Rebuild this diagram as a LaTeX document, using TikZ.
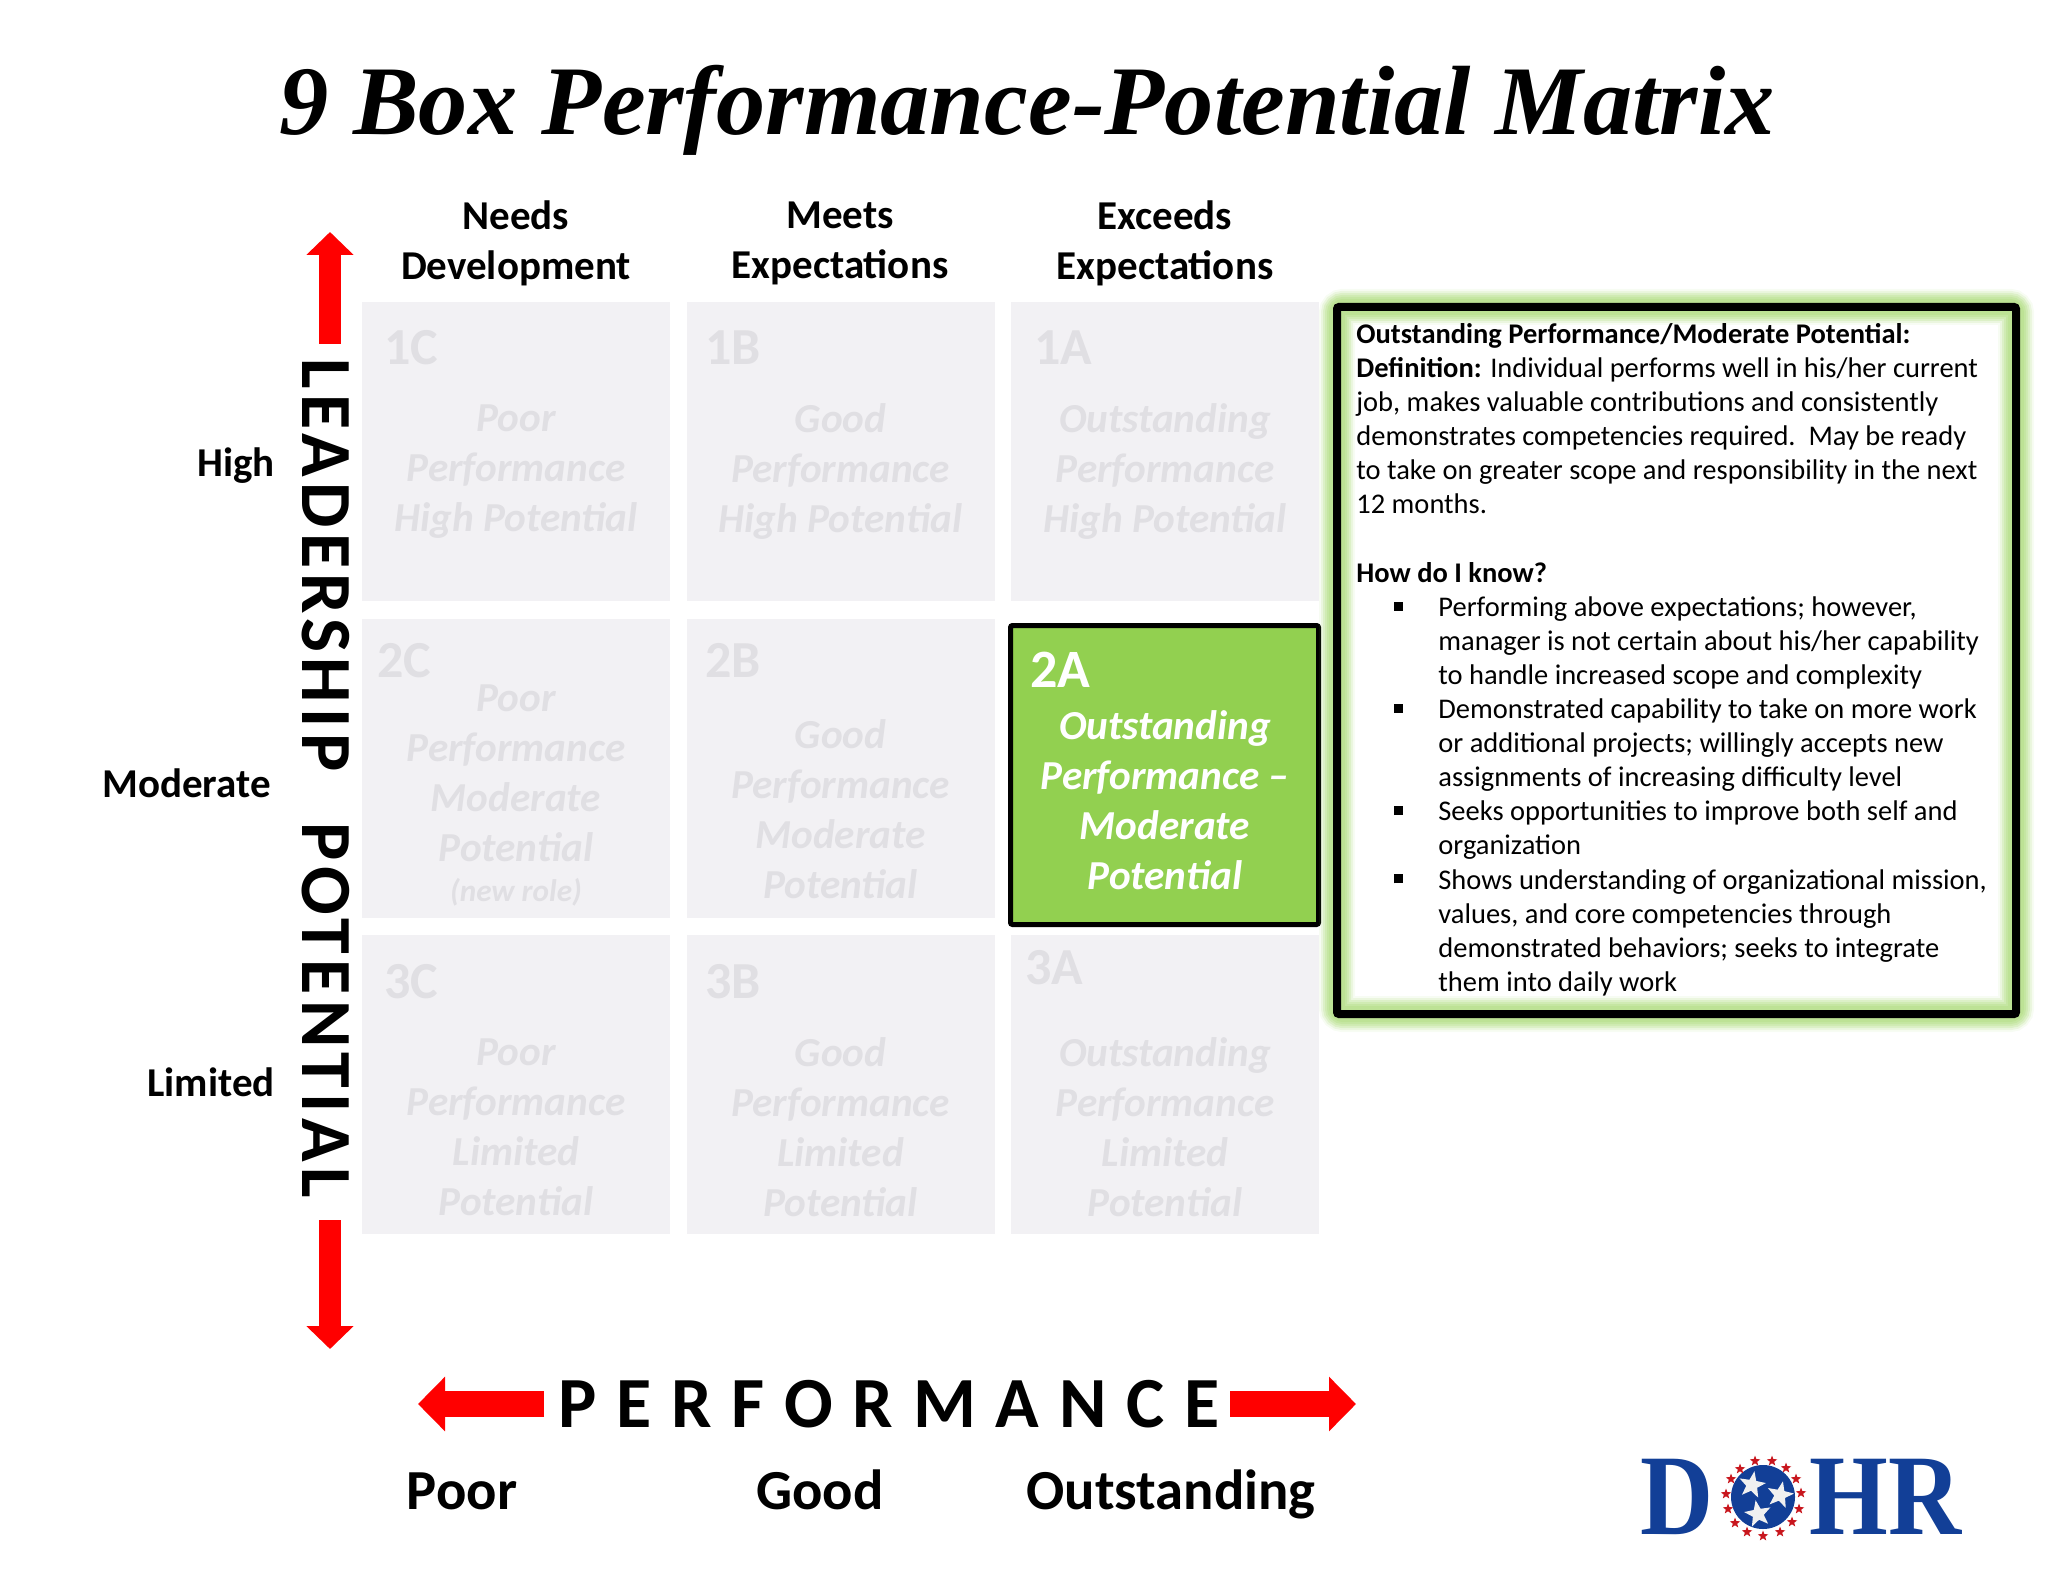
\documentclass[tikz,border=0pt]{standalone}
\usepackage{fontspec}
\setmainfont{Carlito}
\newfontfamily\titlefont{Liberation Serif}
\newfontfamily\logofont[FakeStretch=0.88]{Liberation Serif}
\newfontfamily\spacedfont[LetterSpace=7.3]{Carlito}
\newfontfamily\perffont[LetterSpace=4.85]{Carlito}
\usetikzlibrary{arrows.meta,shapes.geometric}
\definecolor{cellgrey}{HTML}{F2F1F4}
\definecolor{cellink}{HTML}{E0DFE3}
\definecolor{boxgreen}{HTML}{92D050}
\definecolor{logoblue}{HTML}{123F97}
\definecolor{logored}{HTML}{C8161D}
\newcommand{\mybullet}{\hspace*{19pt}\rule[2.8pt]{4.5pt}{4.5pt}\hspace*{17.5pt}}
\newcommand{\myindent}{\hspace*{41pt}}
\begin{document}
\begin{tikzpicture}
		[x=0.5pt,y=-0.5pt,
		mycell/.style={
			rectangle,
			fill=cellgrey,
			outer sep=0pt,
			inner sep=0pt,
			minimum width=154pt,
			minimum height=149.5pt
		},
		mytag/.style={anchor=base west,inner sep=0pt,text=cellink,font=\fontsize{26}{30}\selectfont\bfseries},
		mytext/.style={align=center,inner sep=0pt,text=cellink,font=\fontsize{20.6}{25}\selectfont\bfseries\itshape},
		myhead/.style={align=center,inner sep=0pt,font=\fontsize{20.5}{25}\selectfont\bfseries},
		myside/.style={anchor=base east,inner sep=0pt,font=\fontsize{20.5}{25}\selectfont\bfseries},
		mybottom/.style={anchor=base,inner sep=0pt,font=\fontsize{28.3}{32}\selectfont\bfseries},
		redarrow/.style={draw=red,line width=11pt,-{Triangle[length=11.5pt,width=23pt]}},
		redarrowb/.style={draw=red,line width=13pt,-{Triangle[length=13.5pt,width=26.5pt]}},
		glowline/.style={draw=boxgreen,opacity=0.17,rounded corners=3pt},
		redstar/.style={star,star points=5,star point ratio=2.4,fill=logored,minimum size=5.5pt,inner sep=0pt},
		whitestar/.style={star,star points=5,star point ratio=2.4,fill=white!94!black,minimum size=14pt,inner sep=0pt}]
		\useasboundingbox (0,0) rectangle (2048,1582);
		\node[anchor=base,inner sep=0pt,font=\titlefont\fontsize{49.2}{60}\selectfont\bfseries\itshape] (title) at (1027,135) {9 Box Performance-Potential Matrix};

		\node[myhead] (head1) at (516,243) {Needs\\Development};
		\node[myhead] (head2) at (840,243) {Meets\\Expectations};
		\node[myhead] (head3) at (1165,243) {Exceeds\\Expectations};

		\node[myside] (high) at (275,477) {High};
		\node[myside] (moderate) at (271,797) {Moderate};
		\node[myside] (limited) at (275,1096) {Limited};

		\node[mycell] (cell1c) at (516,451.5) {};
		\node[mycell] (cell1b) at (840.5,451.5) {};
		\node[mycell] (cell1a) at (1165,451.5) {};
		\node[mycell] (cell2c) at (516,768) {};
		\node[mycell] (cell2b) at (840.5,768) {};
		\node[mycell,fill=boxgreen,draw=black,line width=2.5pt,rounded corners=1pt] (cell2a) at (1164.5,775) {};
		\node[mycell] (cell3c) at (516,1084.5) {};
		\node[mycell] (cell3b) at (840.5,1084.5) {};
		\node[mycell] (cell3a) at (1165,1084.5) {};

		\node[mytag] (tag1c) at (384,365) {1C};
		\node[mytag] (tag1b) at (705,365) {1B};
		\node[mytag] (tag1a) at (1034,365) {1A};
		\node[mytag] (tag2c) at (377,677) {2C};
		\node[mytag] (tag2b) at (705,677) {2B};
		\node[mytag,text=white,font=\fontsize{27}{30}\selectfont\bfseries] (tag2a) at (1030,687) {2A};
		\node[mytag] (tag3c) at (384,998) {3C};
		\node[mytag] (tag3b) at (705,998) {3B};
		\node[mytag] (tag3a) at (1025,984) {3A};

		\node[mytext] (text1c) at (516,472) {Poor\\Performance\\High Potential};
		\node[mytext] (text1b) at (840.5,472) {Good\\Performance\\High Potential};
		\node[mytext] (text1a) at (1165,472) {Outstanding\\Performance\\High Potential};
		\node[mytext] (text2c) at (516,773) {Poor\\Performance\\Moderate\\Potential};
		\node[mytext,font=\fontsize{15.6}{20}\selectfont\bfseries\itshape] (newrole) at (516,892) {(new role)};
		\node[mytext] (text2b) at (840.5,809) {Good\\Performance\\Moderate\\Potential};
		\node[mytext,text=white] (text2a) at (1165,800) {Outstanding\\Performance --\\Moderate\\Potential};
		\node[mytext] (text3c) at (516,1127) {Poor\\Performance\\Limited\\Potential};
		\node[mytext] (text3b) at (840.5,1127) {Good\\Performance\\Limited\\Potential};
		\node[mytext] (text3a) at (1165,1127) {Outstanding\\Performance\\Limited\\Potential};

		\coordinate (upstart) at (330,344);
		\coordinate (uptip) at (330,232);
		\coordinate (downstart) at (330,1220);
		\coordinate (downtip) at (330,1349);
		\coordinate (leftstart) at (544,1404);
		\coordinate (lefttip) at (418,1404);
		\coordinate (rightstart) at (1230,1404);
		\coordinate (righttip) at (1356,1404);
		\draw[redarrow] (upstart) -- (uptip);
		\draw[redarrow] (downstart) -- (downtip);
		\draw[redarrowb] (leftstart) -- (lefttip);
		\draw[redarrowb] (rightstart) -- (righttip);

		\node[rotate=-90,anchor=base west,inner sep=0pt,font=\spacedfont\fontsize{36}{40}\selectfont\bfseries] (leadership) at (302,358) {LEADERSHIP\hspace{15pt} POTENTIAL};
		\node[anchor=base west,inner sep=0pt,font=\perffont\fontsize{36}{40}\selectfont\bfseries] (performance) at (558,1427) {P E R F O R M A N C E};

		\node[mybottom] (poor) at (462,1509) {Poor};
		\node[mybottom] (good) at (820,1509) {Good};
		\node[mybottom] (outstanding) at (1171,1509) {Outstanding};

		\coordinate (detailnw) at (1337,307);
		\coordinate (detailse) at (2016,1014);
		\draw[glowline,line width=18pt,opacity=0.07] (detailnw) rectangle (detailse);
		\draw[glowline,line width=16pt,opacity=0.12] (detailnw) rectangle (detailse);
		\draw[glowline,line width=14pt] (detailnw) rectangle (detailse);
		\draw[glowline,line width=12pt] (detailnw) rectangle (detailse);
		\draw[glowline,line width=10pt] (detailnw) rectangle (detailse);
		\draw[glowline,line width=8pt] (detailnw) rectangle (detailse);
		\draw[line width=4pt,rounded corners=1pt] (detailnw) rectangle (detailse);
		\node[anchor=north west,inner sep=0pt,align=left,font=\fontsize{14.24}{17.05}\selectfont] (detail) at (1356,323) {%
			\textbf{Outstanding Performance/Moderate Potential:}\\
			\textbf{Definition:} Individual performs well in his/her current\\
			job, makes valuable contributions and consistently\\
			demonstrates competencies required.\ \ May be ready\\
			to take on greater scope and responsibility in the next\\
			12 months.\\
			\mbox{}\\
			\textbf{How do I know?}\\
			\mybullet Performing above expectations; however,\\
			\myindent manager is not certain about his/her capability\\
			\myindent to handle increased scope and complexity\\
			\mybullet Demonstrated capability to take on more work\\
			\myindent or additional projects; willingly accepts new\\
			\myindent assignments of increasing difficulty level\\
			\mybullet Seeks opportunities to improve both self and\\
			\myindent organization\\
			\mybullet Shows understanding of organizational mission,\\
			\myindent values, and core competencies through\\
			\myindent demonstrated behaviors; seeks to integrate\\
			\myindent them into daily work};

		\node[anchor=base west,inner sep=0pt,text=logoblue,font=\logofont\fontsize{57.5}{60}\selectfont\bfseries] (logod) at (1640,1534) {D};
		\node[anchor=base west,inner sep=0pt,text=logoblue,font=\logofont\fontsize{57.5}{60}\selectfont\bfseries] (logohr) at (1809,1534) {HR};
		\node[circle,fill=logoblue,minimum size=32pt,inner sep=0pt] (seal) at (1763,1497) {};
		\node[whitestar,rotate=-10] (wstar1) at (1752,1485) {};
		\node[whitestar,rotate=-12] (wstar2) at (1780,1495) {};
		\node[whitestar,rotate=10] (wstar3) at (1758,1514) {};
		\node[redstar] (rstar1) at (1755,1461) {};
		\node[redstar] (rstar2) at (1772,1461) {};
		\node[redstar] (rstar3) at (1786,1468) {};
		\node[redstar] (rstar4) at (1796,1479) {};
		\node[redstar] (rstar5) at (1801,1493) {};
		\node[redstar] (rstar6) at (1799,1509) {};
		\node[redstar] (rstar7) at (1792,1522) {};
		\node[redstar] (rstar8) at (1780,1532) {};
		\node[redstar] (rstar9) at (1763,1536) {};
		\node[redstar] (rstar10) at (1747,1532) {};
		\node[redstar] (rstar11) at (1735,1523) {};
		\node[redstar] (rstar12) at (1728,1509) {};
		\node[redstar] (rstar13) at (1726,1494) {};
		\node[redstar] (rstar14) at (1731,1479) {};
		\node[redstar] (rstar15) at (1740,1469) {};
	\end{tikzpicture}
\end{document}
